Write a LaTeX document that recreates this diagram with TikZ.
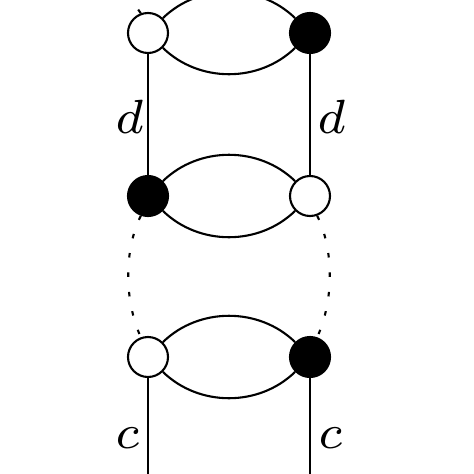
\documentclass[tikz,border=0pt]{standalone}
\usepackage{graphicx}
\begin{document}
\begin{tikzpicture}[x=1pt,y=-1pt,line width=2.1pt,
  wv/.style={circle,draw,fill=white,minimum size=40pt,inner sep=0pt},
  bv/.style={circle,draw,fill=black,minimum size=40pt,inner sep=0pt},
  lbl/.style={inner sep=0pt,anchor=base},
  dots/.style={dash pattern=on 4.5pt off 15pt}]
\useasboundingbox (0,0) rectangle (474,474);
\clip (0,0) rectangle (474,474);
\coordinate (w1) at (148,33);
\coordinate (b1) at (310,33);
\coordinate (b2) at (148,196);
\coordinate (w2) at (310,196);
\coordinate (w3) at (148,357);
\coordinate (b3) at (310,357);
\coordinate (e1) at (148,480);
\coordinate (e2) at (310,480);
\coordinate (t1) at (128,-40);
% vertical lines
\draw (w1) -- (b2);
\draw (b1) -- (w2);
\draw (w3) -- (e1);
\draw (b3) -- (e2);
% nodes
\node[wv] (W1) at (w1) {};
\node[bv] (B1) at (b1) {};
\node[bv] (B2) at (b2) {};
\node[wv] (W2) at (w2) {};
\node[wv] (W3) at (w3) {};
\node[bv] (B3) at (b3) {};
% arcs
\foreach \a/\b/\y in {W1/B1/33,B2/W2/196,W3/B3/357}{
  \draw (\a.-45) .. controls (199,\y+50) and (259,\y+50) .. (\b.-135);
  \draw (\a.45) .. controls (199,\y-50) and (259,\y-50) .. (\b.135);
}
% dotted curves
\draw[dots] (B2.250) .. controls (124,250) and (124,300) .. (W3.110);
\draw[dots] (W2.-70) .. controls (334,250) and (334,300) .. (B3.70);
\draw[dots] (W1.110) .. controls (124,-10) .. (t1);
% labels
\node[lbl] (d1) at (130,133) {\scalebox{6.86}{$\scriptstyle d$}};
\node[lbl] (d2) at (331.5,133) {\scalebox{6.86}{$\scriptstyle d$}};
\node[lbl] (c1) at (127.5,448) {\scalebox{6.86}{$\scriptstyle c$}};
\node[lbl] (c2) at (330.7,448) {\scalebox{6.86}{$\scriptstyle c$}};
\end{tikzpicture}
\end{document}
